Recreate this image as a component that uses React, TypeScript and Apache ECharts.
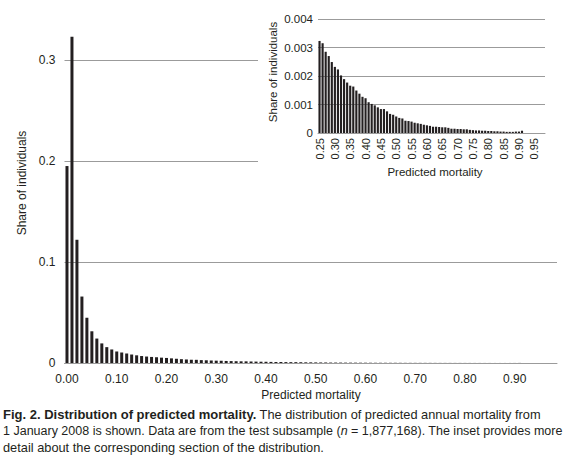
import { useEffect, useRef } from 'react';
import * as echarts from 'echarts';

// bin labels (lower edge of each 0.01-wide bin)
const mainBins: string[] = Array.from({ length: 99 }, (_, i) => (i / 100).toFixed(2));
const insetBins: string[] = Array.from({ length: 74 }, (_, i) => ((i + 25) / 100).toFixed(2));

// share of individuals, bins 0.00 .. 0.24
const headShare = [
    0.195, 0.323, 0.122, 0.0658, 0.0448, 0.0314, 0.0242, 0.0194, 0.0157, 0.0134,
    0.0114, 0.0104, 0.0094, 0.0084, 0.0076, 0.0069, 0.0064, 0.006, 0.0057, 0.0053,
    0.005, 0.0046, 0.0042, 0.0038, 0.0035,
];

// share of individuals, bins 0.25 .. 0.91
const tailShare = [
    0.00323, 0.00315, 0.00285, 0.0027, 0.00249, 0.00232, 0.00223, 0.00202, 0.00189, 0.00177,
    0.00166, 0.00163, 0.00149, 0.00138, 0.00127, 0.00122, 0.00108, 0.00102, 0.00097, 0.0009,
    0.00084, 0.00084, 0.00076, 0.00067, 0.00064, 0.00058, 0.00053, 0.00051, 0.00043, 0.00042,
    0.0004, 0.00036, 0.00034, 0.00032, 0.00029, 0.00027, 0.00025, 0.00022, 0.00022, 0.00021,
    0.0002, 0.0002, 0.00018, 0.00015, 0.00015, 0.00014, 0.00014, 0.00013, 0.00013, 0.00011,
    0.0001, 0.00009, 0.00009, 0.00008, 0.00008, 0.00007, 0.00007, 0.00006, 0.00006, 0.00005,
    0.00005, 0.00004, 0.00004, 0.00004, 0.00005, 0.00005, 0.00008,
];

const mainTicks = [0, 0.1, 0.2, 0.3];
const insetTicks = [0, 0.001, 0.002, 0.003, 0.004];

const TEXT = '#231f20';
const GRID = '#9b9b9b';
const FONT = '"Liberation Sans", Arial, sans-serif';
const CAPTION_FONT = '"Liberation Sans", Arial, sans-serif';

const App = () => {
    const chartRef = useRef<HTMLDivElement>(null);

    useEffect(() => {
        if (!chartRef.current) return;
        const chart = echarts.init(chartRef.current, undefined, { renderer: 'svg' });

        const mainData = headShare.concat(tailShare);

        chart.setOption({
            animation: false,
            textStyle: { fontFamily: FONT, color: TEXT },
            grid: [
                { left: 64.5, right: 21, top: 60, bottom: 99 },
                { left: 318, right: 33, top: 19, bottom: 329 },
            ],
            xAxis: [
                {
                    type: 'category',
                    gridIndex: 0,
                    data: mainBins,
                    axisLine: { lineStyle: { color: GRID, width: 1 } },
                    axisTick: { show: false },
                    axisLabel: { interval: 9, fontSize: 12, color: TEXT, margin: 10 },
                },
                {
                    type: 'category',
                    gridIndex: 1,
                    data: insetBins,
                    z: 4,
                    axisLine: { lineStyle: { color: GRID, width: 1 } },
                    axisTick: { show: false },
                    axisLabel: { interval: 4, rotate: 90, fontSize: 11, color: TEXT, margin: 5 },
                },
            ],
            yAxis: [
                {
                    type: 'value',
                    gridIndex: 0,
                    min: mainTicks[0],
                    max: mainTicks[mainTicks.length - 1],
                    interval: 0.1,
                    axisLine: { show: false },
                    axisTick: { show: false },
                    splitLine: { lineStyle: { color: GRID, width: 1 } },
                    axisLabel: {
                        fontSize: 12,
                        color: TEXT,
                        margin: 9,
                        formatter: (v: number) => (v === 0 ? '0' : v.toFixed(1)),
                    },
                },
                {
                    type: 'value',
                    gridIndex: 1,
                    min: insetTicks[0],
                    max: insetTicks[insetTicks.length - 1],
                    interval: 0.001,
                    z: 4,
                    axisLine: { show: false },
                    axisTick: { show: false },
                    splitLine: { lineStyle: { color: GRID, width: 1 } },
                    axisLabel: {
                        fontSize: 11.5,
                        color: TEXT,
                        margin: 5,
                        formatter: (v: number) => (v === 0 ? '0' : v.toFixed(3)),
                    },
                },
            ],
            series: [
                {
                    type: 'bar',
                    xAxisIndex: 0,
                    yAxisIndex: 0,
                    data: mainData,
                    barWidth: 3,
                    clip: false,
                    itemStyle: { color: TEXT },
                },
                {
                    type: 'bar',
                    xAxisIndex: 1,
                    yAxisIndex: 1,
                    data: tailShare,
                    barCategoryGap: '30%',
                    z: 5,
                    itemStyle: { color: TEXT },
                },
            ],
            graphic: [
                // white backdrop behind the inset
                {
                    type: 'rect',
                    z: 3,
                    shape: { x: 258, y: 0, width: 320, height: 185 },
                    style: { fill: '#fff' },
                },
                {
                    type: 'text',
                    z: 6,
                    x: 22,
                    y: 183,
                    rotation: Math.PI / 2,
                    style: {
                        text: 'Share of individuals',
                        font: `12px ${FONT}`,
                        fill: TEXT,
                        align: 'center',
                        verticalAlign: 'middle',
                    },
                },
                {
                    type: 'text',
                    z: 6,
                    x: 311,
                    y: 395,
                    style: {
                        text: 'Predicted mortality',
                        font: `12px ${FONT}`,
                        fill: TEXT,
                        align: 'center',
                        verticalAlign: 'middle',
                    },
                },
                {
                    type: 'text',
                    z: 6,
                    x: 273,
                    y: 72,
                    rotation: Math.PI / 2,
                    style: {
                        text: 'Share of individuals',
                        font: `11.5px ${FONT}`,
                        fill: TEXT,
                        align: 'center',
                        verticalAlign: 'middle',
                    },
                },
                {
                    type: 'text',
                    z: 6,
                    x: 435,
                    y: 172,
                    style: {
                        text: 'Predicted mortality',
                        font: `11.5px ${FONT}`,
                        fill: TEXT,
                        align: 'center',
                        verticalAlign: 'middle',
                    },
                },
                // caption
                {
                    type: 'text',
                    z: 6,
                    x: 3,
                    y: 414,
                    style: {
                        text: '{b|Fig. 2. Distribution of predicted mortality.} The distribution of predicted annual mortality from',
                        font: `12.8px ${CAPTION_FONT}`,
                        fill: TEXT,
                        verticalAlign: 'middle',
                        rich: {
                            b: { fontWeight: 'bold', fontSize: 13, fontFamily: CAPTION_FONT, fill: TEXT },
                        },
                    },
                },
                {
                    type: 'text',
                    z: 6,
                    x: 3,
                    y: 431,
                    style: {
                        text: '1 January 2008 is shown. Data are from the test subsample ({i|n} = 1,877,168). The inset provides more',
                        font: `12.5px ${CAPTION_FONT}`,
                        fill: TEXT,
                        verticalAlign: 'middle',
                        rich: {
                            i: { fontStyle: 'italic', fontSize: 12.5, fontFamily: CAPTION_FONT, fill: TEXT },
                        },
                    },
                },
                {
                    type: 'text',
                    z: 6,
                    x: 3,
                    y: 447,
                    style: {
                        text: 'detail about the corresponding section of the distribution.',
                        font: `12.8px ${CAPTION_FONT}`,
                        fill: TEXT,
                        verticalAlign: 'middle',
                    },
                },
            ],
        });

        return () => {
            chart.dispose();
        };
    }, []);

    return (
        <div
            ref={chartRef}
            style={{ position: 'absolute', left: 0, top: 0, width: '578px', height: '462px', background: '#fff' }}
        />
    );
};

export default App;
